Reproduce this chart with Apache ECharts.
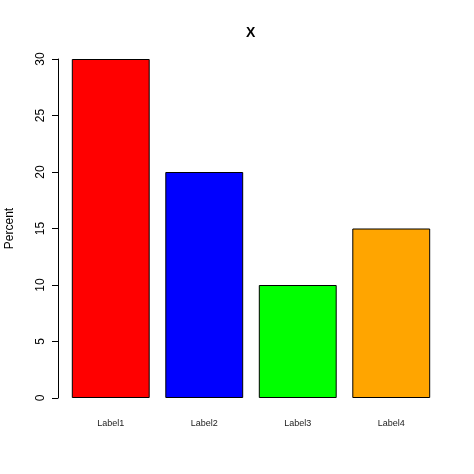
<!DOCTYPE html>
<html><head><meta charset="utf-8">
<script src="https://cdn.jsdelivr.net/npm/echarts@6/dist/echarts.min.js"></script>
<style>html,body{margin:0;padding:0;background:#fff}#c{width:474px;height:474px}</style>
</head><body><div id="c"></div>
<script>
const categories = ['Label1', 'Label2', 'Label3', 'Label4'];
const values = [30, 20, 10, 15];
const barColors = ['#FF0000', '#0000FF', '#00FF00', '#FFA500'];
const yTicks = [0, 5, 10, 15, 20, 25, 30];

const chart = echarts.init(document.getElementById('c'), null, {renderer: 'canvas'});
chart.setOption({
  animation: false,
  backgroundColor: '#fff',
  textStyle: {fontFamily: 'Liberation Sans, Arial, sans-serif'},
  title: {
    text: 'X', left: 241, top: 21,
    textStyle: {fontSize: 14, fontWeight: 'bold', color: '#000', fontFamily: 'Liberation Sans, Arial, sans-serif'}
  },
  grid: {left: 64, right: 474 - 438, top: 59, bottom: 474 - 398, containLabel: false, outerBoundsMode: 'none'},
  xAxis: {
    type: 'category', data: categories,
    axisLine: {show: false}, axisTick: {show: false},
    axisLabel: {fontSize: 9, color: '#222', margin: 21}
  },
  yAxis: {
    type: 'value', min: yTicks[0], max: yTicks[yTicks.length - 1], interval: 5,
    offset: 6,
    name: 'Percent', nameLocation: 'middle', nameGap: 42, nameRotate: 90,
    nameTextStyle: {fontSize: 12, color: '#000'},
    axisLine: {show: true, lineStyle: {color: '#000', width: 1}},
    axisTick: {show: true, length: 6, lineStyle: {color: '#000'}},
    axisLabel: {rotate: 90, fontSize: 12, color: '#000', margin: 11},
    splitLine: {show: false}
  },
  series: [{
    type: 'bar',
    barCategoryGap: '16.7%',
    data: values.map((v, i) => ({value: v, itemStyle: {color: barColors[i]}})),
    itemStyle: {borderColor: '#000', borderWidth: 1}
  }]
});
</script></body></html>
